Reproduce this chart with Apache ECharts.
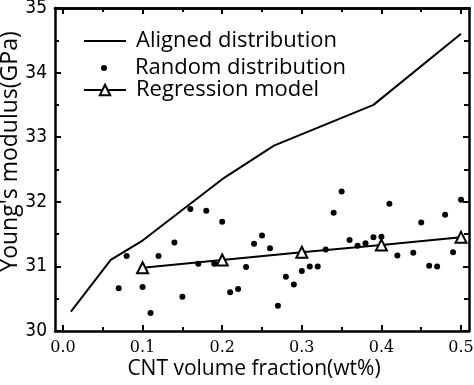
<!DOCTYPE html>
<html>
<head>
<meta charset="utf-8">
<script src="https://cdn.jsdelivr.net/npm/echarts@6/dist/echarts.min.js"></script>
<style>
    html, body { margin: 0; padding: 0; background: #fff; }
    #chart { width: 474px; height: 385px; }
</style>
</head>
<body>
<div id="chart"></div>
<script>
    // values
    var alignedX = [0.01, 0.06, 0.1, 0.2, 0.265, 0.39, 0.5];
    var alignedY = [30.3, 31.1, 31.4, 32.35, 32.87, 33.5, 34.6];

    var randomX = [0.07, 0.08, 0.10, 0.11, 0.12, 0.14, 0.15, 0.16, 0.17, 0.18,
                   0.19, 0.20, 0.21, 0.22, 0.23, 0.24, 0.25, 0.26, 0.27, 0.28,
                   0.29, 0.30, 0.31, 0.32, 0.33, 0.34, 0.35, 0.36, 0.37, 0.38,
                   0.39, 0.40, 0.41, 0.42, 0.44, 0.45, 0.46, 0.47, 0.48, 0.49, 0.50];
    var randomY = [30.66, 31.16, 30.68, 30.28, 31.16, 31.37, 30.53, 31.89, 31.04, 31.86,
                   31.04, 31.69, 30.60, 30.65, 30.99, 31.35, 31.48, 31.28, 30.39, 30.84,
                   30.72, 30.93, 31.00, 31.00, 31.26, 31.83, 32.16, 31.41, 31.32, 31.36,
                   31.45, 31.46, 31.97, 31.17, 31.21, 31.68, 31.01, 31.00, 31.80, 31.22, 32.03];

    var regressionX = [0.1, 0.2, 0.3, 0.4, 0.5];
    var regressionY = [30.98, 31.10, 31.22, 31.33, 31.45];

    var xTicks = [0, 0.1, 0.2, 0.3, 0.4, 0.5];
    var xMinorTicks = [0.05, 0.15, 0.25, 0.35, 0.45];

    function pairs(xs, ys) {
        var out = [];
        for (var i = 0; i < xs.length; i++) out.push([xs[i], ys[i]]);
        return out;
    }

    var black = '#000';
    var frame = { show: true, onZero: false, lineStyle: { color: black, width: 2.5 } };
    var legendText = { fontFamily: 'Open Sans', fontSize: 22, color: black, padding: [0, 0, 0, 5] };

    function xAxisOf(pos, ticks, len, withLabels) {
        return {
            type: 'value', min: -0.01, max: 0.51, position: pos,
            axisLine: withLabels || pos === 'top' ? frame : { show: false },
            axisTick: { show: true, inside: true, length: len, customValues: ticks,
                        lineStyle: { color: black, width: 2 } },
            axisLabel: withLabels ? {
                customValues: ticks, margin: 9, color: black,
                fontFamily: 'DejaVu Serif', fontSize: 16,
                formatter: function (v) { return v.toFixed(1); }
            } : { show: false },
            splitLine: { show: false }
        };
    }

    var chart = echarts.init(document.getElementById('chart'));
    var option = {
        animation: false,
        backgroundColor: '#fff',
        grid: { left: 55, right: 5, top: 8, bottom: 54, containLabel: false, outerBoundsMode: 'none' },
        legend: [
            { data: ['Aligned distribution'], left: 83, top: 30, padding: 0, itemWidth: 42, itemHeight: 12,
              selectedMode: false, itemStyle: { opacity: 0 }, textStyle: legendText },
            // the dot is centred in a 42px box, the box is placed by its drawn part
            { data: ['Random distribution'], left: 101, top: 57, padding: 0, itemWidth: 42, itemHeight: 6,
              selectedMode: false, textStyle: legendText },
            { data: ['Regression model'], left: 83, top: 79, padding: 0, itemWidth: 42, itemHeight: 13,
              selectedMode: false, textStyle: legendText }
        ],
        xAxis: [
            Object.assign(xAxisOf('bottom', xTicks, 6, true), {
                name: 'CNT volume fraction(wt%)', nameLocation: 'middle', nameGap: 28, nameMoveOverlap: false,
                nameTextStyle: { fontFamily: 'Open Sans', fontSize: 21, color: black, padding: [0, 16, 0, 0] }
            }),
            xAxisOf('bottom', xMinorTicks, 4, false),
            xAxisOf('top', xTicks, 6, false),
            xAxisOf('top', xMinorTicks, 4, false)
        ],
        yAxis: [
            {
                type: 'value', min: 30, max: 35, interval: 1, position: 'left',
                name: "Young's modulus(GPa)", nameLocation: 'middle', nameGap: 33, nameMoveOverlap: false,
                nameTextStyle: { fontFamily: 'Open Sans', fontSize: 23, color: black, padding: [0, 0, 0, 36] },
                axisLine: frame,
                axisTick: { inside: true, length: 6, lineStyle: { color: black, width: 2 } },
                minorTick: { show: true, splitNumber: 2, length: 4, lineStyle: { color: black, width: 2 } },
                axisLabel: { margin: 8, color: black, fontFamily: 'DejaVu Sans Condensed', fontSize: 19 },
                splitLine: { show: false }
            },
            {
                type: 'value', min: 30, max: 35, interval: 1, position: 'right',
                axisLine: frame,
                axisTick: { inside: true, length: 6, lineStyle: { color: black, width: 2 } },
                minorTick: { show: true, splitNumber: 2, length: 5, lineStyle: { color: black, width: 2 } },
                axisLabel: { show: false },
                splitLine: { show: false }
            }
        ],
        series: [
            {
                name: 'Aligned distribution', type: 'line', symbol: 'none',
                lineStyle: { color: black, width: 2 }, itemStyle: { color: black },
                data: pairs(alignedX, alignedY)
            },
            {
                name: 'Regression model', type: 'line', symbol: 'emptyTriangle', symbolSize: 11,
                lineStyle: { color: black, width: 2 },
                itemStyle: { color: black, borderColor: black, borderWidth: 1.5 },
                data: pairs(regressionX, regressionY)
            },
            {
                name: 'Random distribution', type: 'scatter', symbol: 'circle', symbolSize: 6,
                itemStyle: { color: black, opacity: 1 },
                data: pairs(randomX, randomY)
            }
        ]
    };
    chart.setOption(option);
</script>
</body>
</html>
